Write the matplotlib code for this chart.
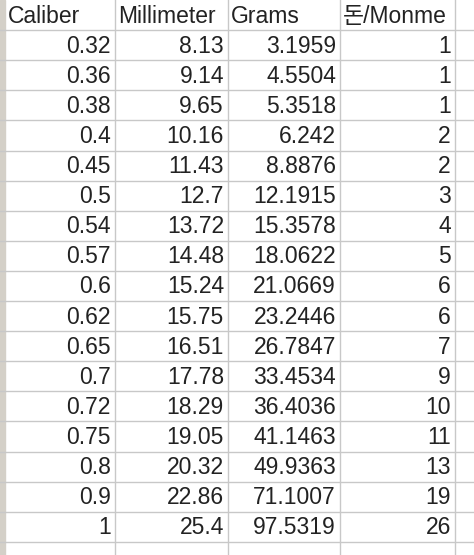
import matplotlib
matplotlib.use('Agg')
import matplotlib.pyplot as plt

headers = ['Caliber', 'Millimeter', 'Grams', '돈/Monme']
caliber = ['0.32', '0.36', '0.38', '0.4', '0.45', '0.5', '0.54', '0.57', '0.6', '0.62',
           '0.65', '0.7', '0.72', '0.75', '0.8', '0.9', '1']
millimeter = ['8.13', '9.14', '9.65', '10.16', '11.43', '12.7', '13.72', '14.48', '15.24',
              '15.75', '16.51', '17.78', '18.29', '19.05', '20.32', '22.86', '25.4']
grams = ['3.1959', '4.5504', '5.3518', '6.242', '8.8876', '12.1915', '15.3578', '18.0622',
         '21.0669', '23.2446', '26.7847', '33.4534', '36.4036', '41.1463', '49.9363',
         '71.1007', '97.5319']
monme = ['1', '1', '1', '2', '2', '3', '4', '5', '6', '6', '7', '9', '10', '11', '13', '19', '26']

plt.rcParams['font.family'] = ['Liberation Sans', 'Noto Sans CJK KR', 'DejaVu Sans']

fig = plt.figure(figsize=(4.74, 5.55), dpi=100)
ax = fig.add_axes([0, 0, 1, 1])
ax.set_xlim(0, 474)
ax.set_ylim(555, 0)
ax.axis('off')

col_edges = [5, 115, 228, 340, 455, 474]
row_h = 30.1
n_rows = len(caliber) + 2
grid = '#c8c8c8'
fs = 16.5

# grey frame at left edge
ax.axvspan(0, 5, color='#d4d0c8')
for x in col_edges[1:-1]:
    ax.axvline(x, color=grid, lw=1)
for i in range(1, n_rows + 1):
    ax.axhline(i * row_h, color=grid, lw=1)

for j, h in enumerate(headers):
    ax.text(col_edges[j] + 3, row_h / 2 + 1, h, fontsize=fs, ha='left', va='center',
            color='#222222')

cols = [caliber, millimeter, grams, monme]
for j, col in enumerate(cols):
    for i, v in enumerate(col):
        ax.text(col_edges[j + 1] - 4, (i + 1.5) * row_h + 1, v, fontsize=fs,
                ha='right', va='center', color='#222222')

fig.savefig('out.png', dpi=100)
